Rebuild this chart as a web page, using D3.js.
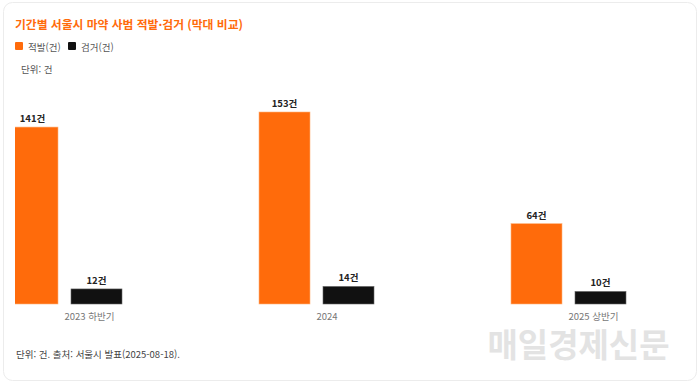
<!DOCTYPE html>
<html lang="ko">
<head>
<meta charset="utf-8">
<script src="https://cdn.jsdelivr.net/npm/d3@7"></script>
<style>
    html, body { margin: 0; padding: 0; background: #fff; }
    body { font-family: "Noto Sans CJK KR", "Noto Sans", sans-serif; }
    svg { display: block; }
</style>
</head>
<body>
<svg id="chart" width="700" height="383"></svg>
<script>
// === Data ===
const periods = ['2023 하반기', '2024', '2025 상반기'];
const seriesKeys = ['적발(건)', '검거(건)'];
const detected = [141, 153, 64];
const arrested = [12, 14, 10];
const seriesColors = ['#ff6b0b', '#111111'];

const rows = periods.map((p, i) => ({ period: p, values: [detected[i], arrested[i]] }));

const svg = d3.select('#chart');

// Card
svg.append('rect')
    .attr('x', 3.5).attr('y', 2.5)
    .attr('width', 693).attr('height', 378)
    .attr('rx', 9)
    .attr('fill', '#fff')
    .attr('stroke', '#ececec');

// Title
svg.append('text')
    .attr('x', 15).attr('y', 29)
    .attr('fill', '#ff6b0b')
    .attr('font-size', 11.8)
    .attr('font-weight', 700)
    .text('기간별 서울시 마약 사범 적발·검거 (막대 비교)');

// Legend
const legend = svg.append('g').attr('transform', 'translate(15,42)');
const legendX = [0, 53];
seriesKeys.forEach((k, i) => {
    const item = legend.append('g').attr('transform', `translate(${legendX[i]},0)`);
    item.append('rect')
        .attr('width', 8).attr('height', 8).attr('rx', 1)
        .attr('fill', seriesColors[i]);
    item.append('text')
        .attr('x', 13).attr('y', 8.5)
        .attr('font-size', 9.5)
        .attr('fill', '#555')
        .text(k);
});

// Unit note
svg.append('text')
    .attr('x', 21).attr('y', 73)
    .attr('font-size', 9.5)
    .attr('fill', '#555')
    .text('단위: 건');

// Watermark
svg.append('text')
    .attr('x', 578.5).attr('y', 357)
    .attr('text-anchor', 'middle')
    .attr('font-size', 33)
    .attr('font-weight', 700)
    .attr('fill', '#e3e3e3')
    .text('매일경제신문');

// Scales
const x0 = d3.scaleBand()
    .domain(periods)
    .range([1.5, 631.5])
    .paddingInner(0.5)
    .paddingOuter(0);

const x1 = d3.scaleBand()
    .domain(seriesKeys)
    .range([0, x0.bandwidth()])
    .paddingInner(13 / 64)
    .paddingOuter(0.086);

const y = d3.scaleLinear()
    .domain([0, 153])
    .range([304, 112]);

// Plot clip
svg.append('clipPath').attr('id', 'plot-clip')
    .append('rect')
    .attr('x', 15).attr('y', 0)
    .attr('width', 680).attr('height', 383);

const plot = svg.append('g').attr('clip-path', 'url(#plot-clip)');

const groups = plot.selectAll('.group')
    .data(rows)
    .join('g')
    .attr('class', 'group')
    .attr('transform', d => `translate(${x0(d.period)},0)`);

const cells = groups.selectAll('.cell')
    .data(d => d.values.map((v, i) => ({ key: seriesKeys[i], value: v, idx: i })))
    .join('g')
    .attr('class', 'cell');

cells.append('rect')
    .attr('x', d => x1(d.key))
    .attr('y', d => y(d.value))
    .attr('width', x1.bandwidth())
    .attr('height', d => y(0) - y(d.value))
    .attr('fill', d => seriesColors[d.idx])
    .attr('stroke', d => d.idx === 0 ? '#ffb27a' : '#666')
    .attr('stroke-width', 0.6);

cells.append('text')
    .attr('x', d => x1(d.key) + x1.bandwidth() / 2)
    .attr('y', d => y(d.value) - 5)
    .attr('text-anchor', 'middle')
    .attr('font-size', 9.5)
    .attr('font-weight', 700)
    .attr('fill', '#222')
    .text(d => `${d.value}건`);

// X axis (labels start at band centre)
const xAxis = svg.append('g')
    .attr('transform', `translate(0,${y(0)})`)
    .call(d3.axisBottom(x0).tickSize(0).tickPadding(9));

xAxis.select('.domain').remove();
xAxis.selectAll('text')
    .attr('text-anchor', 'start')
    .attr('font-family', '"Noto Sans CJK KR", "Noto Sans", sans-serif')
    .attr('font-size', 9.5)
    .attr('fill', '#777');

// Footer
svg.append('text')
    .attr('x', 16).attr('y', 358)
    .attr('font-size', 9.5)
    .attr('fill', '#444')
    .text('단위: 건. 출처: 서울시 발표(2025-08-18).');
</script>
</body>
</html>
